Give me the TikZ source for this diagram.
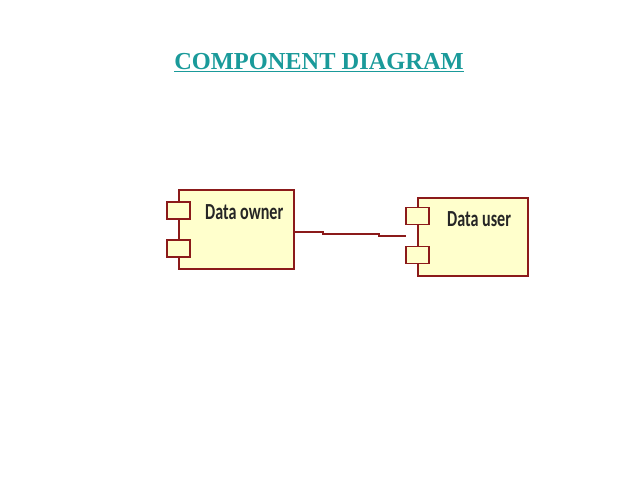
\documentclass[tikz,border=0pt]{standalone}
\usepackage{fontspec}
\setmainfont{Liberation Serif}
\newfontfamily\boxfont[FakeStretch=0.7]{Carlito}
\usetikzlibrary{positioning}

\definecolor{boxfill}{HTML}{FFFFCC}
\definecolor{boxline}{HTML}{8B1A1A}
\definecolor{titleteal}{HTML}{1A9A9A}

\tikzset{
  compbox/.style={rectangle,draw=boxline,fill=boxfill,line width=1.6pt,inner sep=0pt},
  portbox/.style={rectangle,draw=boxline,fill=boxfill,line width=1.6pt,inner sep=0pt,
    minimum width=23pt,minimum height=17pt},
  complabel/.style={font=\boxfont\bfseries\fontsize{23}{25}\selectfont,text=black!85,inner sep=0pt}
}

\begin{document}
\begin{tikzpicture}[x=1pt,y=-1pt]
     \useasboundingbox (0,0) rectangle (638,478);
     % title
     \node[anchor=base,text=titleteal,font=\bfseries\fontsize{24.4}{28}\selectfont,inner sep=0pt]
       (title) at (319,70) {\underline{COMPONENT DIAGRAM}};
     % data owner
     \node[compbox,minimum width=115pt,minimum height=79pt] (owner) at (236.5,229.5) {};
     \node[portbox] (ownerp1) at (178.5,210.5) {};
     \node[portbox] (ownerp2) at (178.5,248.5) {};
     \node[complabel,anchor=base west] (ownerlbl) at (205,220) {Data owner};
     % data user
     \node[compbox,minimum width=110pt,minimum height=78pt] (user) at (473,237) {};
     \node[portbox] (userp1) at (417.5,216) {};
     \node[portbox] (userp2) at (417.5,255) {};
     \node[complabel,anchor=base west] (userlbl) at (447,227) {Data user};
     % link
     \coordinate (linkend) at (406,236);
     \draw[boxline,line width=1.6pt] (owner.east |- 0,232) -- (323,232) -- (323,234) -- (379,234)
       -- (379,236) -- (linkend);
   \end{tikzpicture}
\end{document}
